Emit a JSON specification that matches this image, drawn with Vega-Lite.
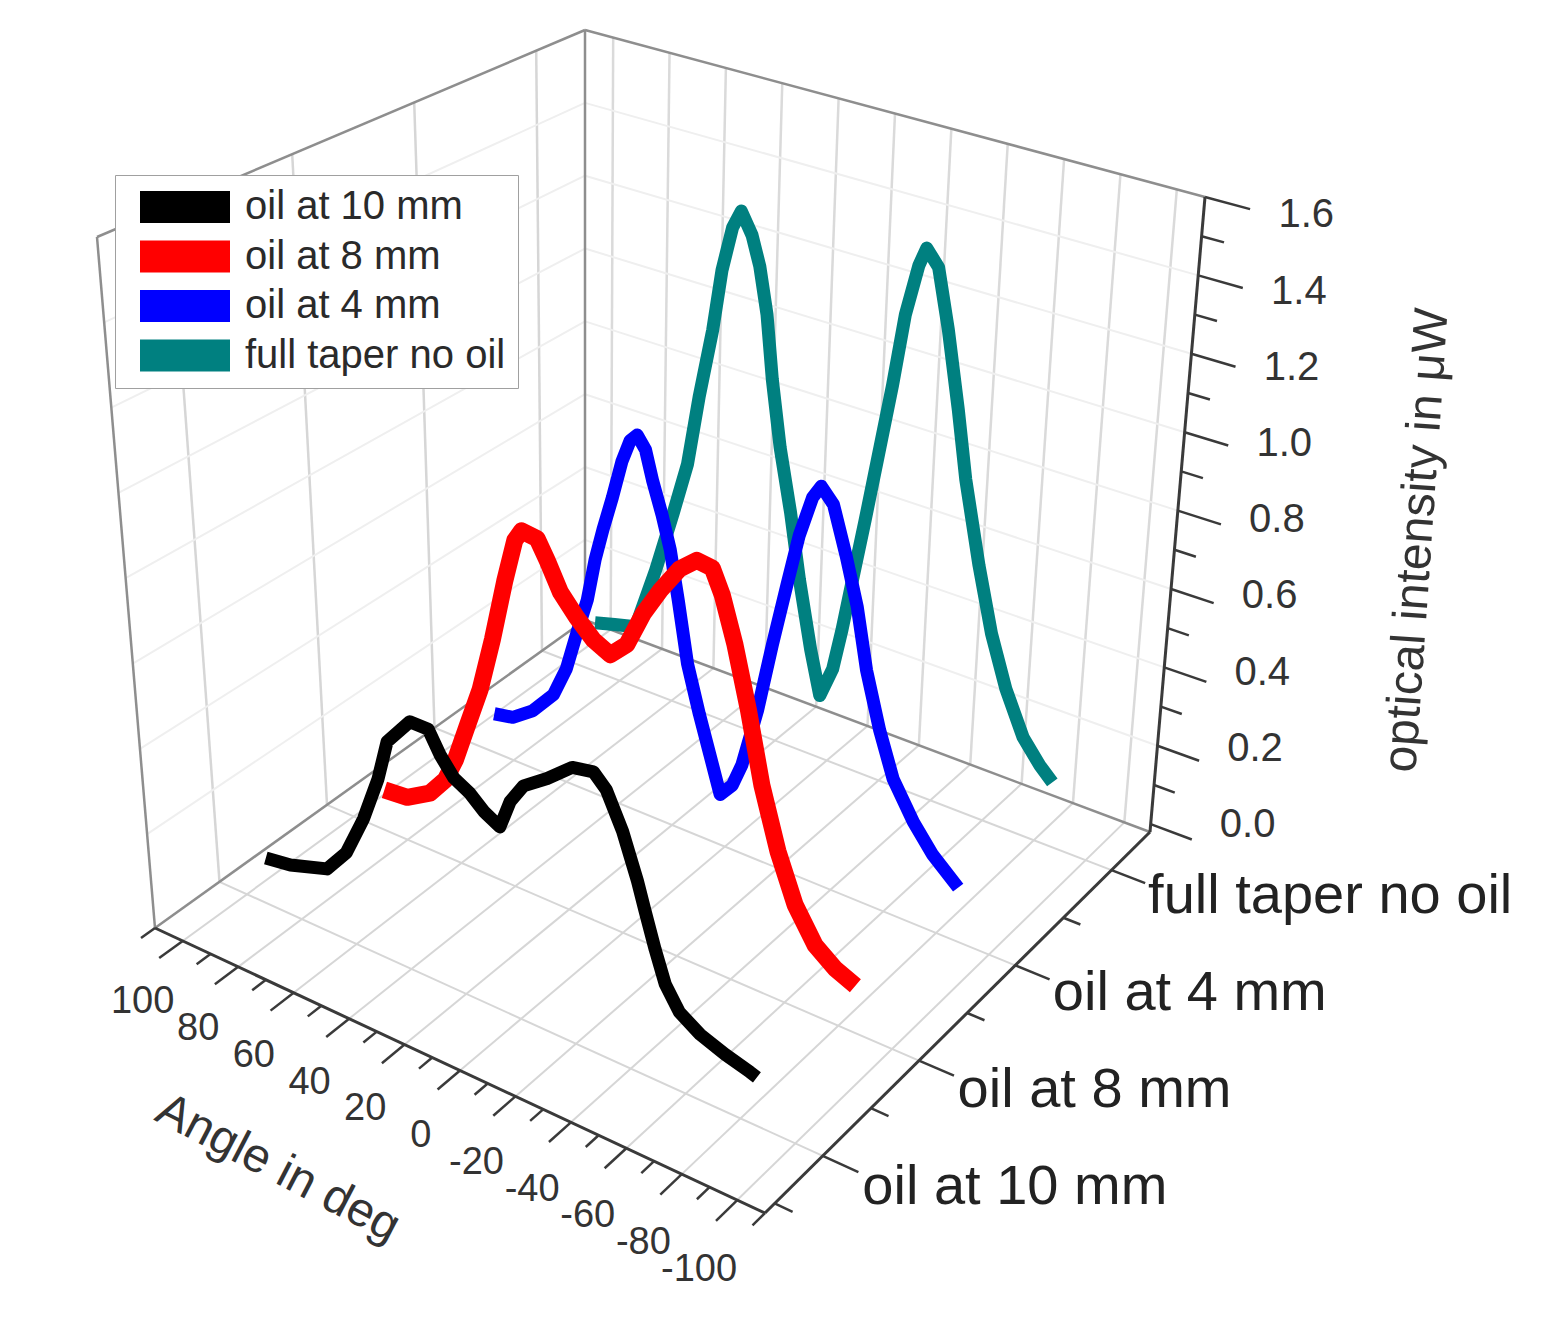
{
  "$schema": "https://vega.github.io/schema/vega-lite/v6.json",
  "width": 1566,
  "height": 1334,
  "padding": 0,
  "autosize": {"type": "none"},
  "background": "white",
  "config": {"view": {"stroke": null}, "font": "Liberation Sans"},
  "datasets": {
    "angles": [
      {"a": 110}, {"a": 100}, {"a": 90}, {"a": 80}, {"a": 70}, {"a": 60}, {"a": 50}, {"a": 40},
      {"a": 30}, {"a": 20}, {"a": 10}, {"a": 0}, {"a": -10}, {"a": -20}, {"a": -30}, {"a": -40},
      {"a": -50}, {"a": -60}, {"a": -70}, {"a": -80}, {"a": -90}, {"a": -100}, {"a": -110}
    ],
    "depths": [
      {"i": 0.5}, {"i": 1}, {"i": 1.5}, {"i": 2}, {"i": 2.5}, {"i": 3}, {"i": 3.5}, {"i": 4}
    ],
    "heights": [
      {"z": 0}, {"z": 0.1}, {"z": 0.2}, {"z": 0.3}, {"z": 0.4}, {"z": 0.5}, {"z": 0.6}, {"z": 0.7},
      {"z": 0.8}, {"z": 0.9}, {"z": 1.0}, {"z": 1.1}, {"z": 1.2}, {"z": 1.3}, {"z": 1.4}, {"z": 1.5}, {"z": 1.6}
    ],
    "frameEdges": [
      {"a": 110, "i": 0.4, "z": -0.02, "a2": 110, "i2": 4.4, "z2": -0.02},
      {"a": 110, "i": 4.4, "z": -0.02, "a2": -110, "i2": 4.4, "z2": -0.02},
      {"a": 110, "i": 4.4, "z": -0.02, "a2": 110, "i2": 4.4, "z2": 1.6},
      {"a": 110, "i": 0.4, "z": -0.02, "a2": 110, "i2": 0.4, "z2": 1.6},
      {"a": 110, "i": 0.4, "z": 1.6, "a2": 110, "i2": 4.4, "z2": 1.6},
      {"a": 110, "i": 4.4, "z": 1.6, "a2": -110, "i2": 4.4, "z2": 1.6}
    ],
    "axisEdges": [
      {"a": 110, "i": 0.4, "z": -0.02, "a2": -110, "i2": 0.4, "z2": -0.02},
      {"a": -110, "i": 0.4, "z": -0.02, "a2": -110, "i2": 4.4, "z2": -0.02},
      {"a": -110, "i": 4.4, "z": -0.02, "a2": -110, "i2": 4.4, "z2": 1.6}
    ],
    "series": [
      {"series": "oil at 10 mm"}, {"series": "oil at 8 mm"}, {"series": "oil at 4 mm"}, {"series": "full taper no oil"}
    ],
    "curves": [
      {"series": "full taper no oil", "angle": 89.5, "intensity": 0.11},
      {"series": "full taper no oil", "angle": 82, "intensity": 0.125},
      {"series": "full taper no oil", "angle": 74, "intensity": 0.14},
      {"series": "full taper no oil", "angle": 66.5, "intensity": 0.31},
      {"series": "full taper no oil", "angle": 60, "intensity": 0.48},
      {"series": "full taper no oil", "angle": 55, "intensity": 0.62},
      {"series": "full taper no oil", "angle": 51, "intensity": 0.81},
      {"series": "full taper no oil", "angle": 46.5, "intensity": 0.995},
      {"series": "full taper no oil", "angle": 43.5, "intensity": 1.16},
      {"series": "full taper no oil", "angle": 40, "intensity": 1.28},
      {"series": "full taper no oil", "angle": 37, "intensity": 1.33},
      {"series": "full taper no oil", "angle": 33, "intensity": 1.275},
      {"series": "full taper no oil", "angle": 30, "intensity": 1.2},
      {"series": "full taper no oil", "angle": 27, "intensity": 1.08},
      {"series": "full taper no oil", "angle": 24.5, "intensity": 0.915},
      {"series": "full taper no oil", "angle": 21, "intensity": 0.745},
      {"series": "full taper no oil", "angle": 16.5, "intensity": 0.585},
      {"series": "full taper no oil", "angle": 12.5, "intensity": 0.42},
      {"series": "full taper no oil", "angle": 7.5, "intensity": 0.25},
      {"series": "full taper no oil", "angle": 3.5, "intensity": 0.14},
      {"series": "full taper no oil", "angle": -1, "intensity": 0.22},
      {"series": "full taper no oil", "angle": -4, "intensity": 0.33},
      {"series": "full taper no oil", "angle": -7.5, "intensity": 0.48},
      {"series": "full taper no oil", "angle": -11, "intensity": 0.63},
      {"series": "full taper no oil", "angle": -14.5, "intensity": 0.79},
      {"series": "full taper no oil", "angle": -19, "intensity": 1.0},
      {"series": "full taper no oil", "angle": -22.5, "intensity": 1.19},
      {"series": "full taper no oil", "angle": -26.5, "intensity": 1.325},
      {"series": "full taper no oil", "angle": -29, "intensity": 1.375},
      {"series": "full taper no oil", "angle": -33.5, "intensity": 1.335},
      {"series": "full taper no oil", "angle": -38, "intensity": 1.185},
      {"series": "full taper no oil", "angle": -43, "intensity": 0.99},
      {"series": "full taper no oil", "angle": -47, "intensity": 0.82},
      {"series": "full taper no oil", "angle": -53.5, "intensity": 0.615},
      {"series": "full taper no oil", "angle": -59.5, "intensity": 0.455},
      {"series": "full taper no oil", "angle": -66, "intensity": 0.33},
      {"series": "full taper no oil", "angle": -73.5, "intensity": 0.225},
      {"series": "full taper no oil", "angle": -80.5, "intensity": 0.17},
      {"series": "full taper no oil", "angle": -85.5, "intensity": 0.14},

      {"series": "oil at 4 mm", "angle": 87, "intensity": 0.08},
      {"series": "oil at 4 mm", "angle": 80, "intensity": 0.09},
      {"series": "oil at 4 mm", "angle": 72.5, "intensity": 0.127},
      {"series": "oil at 4 mm", "angle": 64.5, "intensity": 0.19},
      {"series": "oil at 4 mm", "angle": 59.5, "intensity": 0.27},
      {"series": "oil at 4 mm", "angle": 55.5, "intensity": 0.37},
      {"series": "oil at 4 mm", "angle": 51.5, "intensity": 0.465},
      {"series": "oil at 4 mm", "angle": 48.5, "intensity": 0.575},
      {"series": "oil at 4 mm", "angle": 45.5, "intensity": 0.66},
      {"series": "oil at 4 mm", "angle": 42, "intensity": 0.75},
      {"series": "oil at 4 mm", "angle": 38.5, "intensity": 0.85},
      {"series": "oil at 4 mm", "angle": 35.5, "intensity": 0.91},
      {"series": "oil at 4 mm", "angle": 33, "intensity": 0.93},
      {"series": "oil at 4 mm", "angle": 30, "intensity": 0.9},
      {"series": "oil at 4 mm", "angle": 27.5, "intensity": 0.83},
      {"series": "oil at 4 mm", "angle": 24, "intensity": 0.75},
      {"series": "oil at 4 mm", "angle": 21, "intensity": 0.67},
      {"series": "oil at 4 mm", "angle": 18, "intensity": 0.55},
      {"series": "oil at 4 mm", "angle": 14.5, "intensity": 0.4},
      {"series": "oil at 4 mm", "angle": 10, "intensity": 0.285},
      {"series": "oil at 4 mm", "angle": 6, "intensity": 0.195},
      {"series": "oil at 4 mm", "angle": 2, "intensity": 0.105},
      {"series": "oil at 4 mm", "angle": -2.5, "intensity": 0.14},
      {"series": "oil at 4 mm", "angle": -6, "intensity": 0.2},
      {"series": "oil at 4 mm", "angle": -11.5, "intensity": 0.35},
      {"series": "oil at 4 mm", "angle": -16.5, "intensity": 0.525},
      {"series": "oil at 4 mm", "angle": -21.5, "intensity": 0.69},
      {"series": "oil at 4 mm", "angle": -25.5, "intensity": 0.82},
      {"series": "oil at 4 mm", "angle": -30, "intensity": 0.925},
      {"series": "oil at 4 mm", "angle": -33, "intensity": 0.96},
      {"series": "oil at 4 mm", "angle": -37.5, "intensity": 0.925},
      {"series": "oil at 4 mm", "angle": -42.5, "intensity": 0.81},
      {"series": "oil at 4 mm", "angle": -47, "intensity": 0.695},
      {"series": "oil at 4 mm", "angle": -51, "intensity": 0.55},
      {"series": "oil at 4 mm", "angle": -56.5, "intensity": 0.415},
      {"series": "oil at 4 mm", "angle": -62, "intensity": 0.31},
      {"series": "oil at 4 mm", "angle": -70, "intensity": 0.225},
      {"series": "oil at 4 mm", "angle": -77.5, "intensity": 0.165},
      {"series": "oil at 4 mm", "angle": -87.5, "intensity": 0.11},

      {"series": "oil at 8 mm", "angle": 88, "intensity": 0.08},
      {"series": "oil at 8 mm", "angle": 79.5, "intensity": 0.086},
      {"series": "oil at 8 mm", "angle": 71, "intensity": 0.12},
      {"series": "oil at 8 mm", "angle": 65, "intensity": 0.17},
      {"series": "oil at 8 mm", "angle": 61, "intensity": 0.23},
      {"series": "oil at 8 mm", "angle": 56.5, "intensity": 0.32},
      {"series": "oil at 8 mm", "angle": 51, "intensity": 0.43},
      {"series": "oil at 8 mm", "angle": 46, "intensity": 0.565},
      {"series": "oil at 8 mm", "angle": 41, "intensity": 0.72},
      {"series": "oil at 8 mm", "angle": 37, "intensity": 0.83},
      {"series": "oil at 8 mm", "angle": 34.5, "intensity": 0.86},
      {"series": "oil at 8 mm", "angle": 29, "intensity": 0.855},
      {"series": "oil at 8 mm", "angle": 25.5, "intensity": 0.81},
      {"series": "oil at 8 mm", "angle": 21, "intensity": 0.745},
      {"series": "oil at 8 mm", "angle": 15.5, "intensity": 0.7},
      {"series": "oil at 8 mm", "angle": 9.5, "intensity": 0.66},
      {"series": "oil at 8 mm", "angle": 3.5, "intensity": 0.64},
      {"series": "oil at 8 mm", "angle": -2.5, "intensity": 0.68},
      {"series": "oil at 8 mm", "angle": -8.5, "intensity": 0.77},
      {"series": "oil at 8 mm", "angle": -14.5, "intensity": 0.84},
      {"series": "oil at 8 mm", "angle": -21.5, "intensity": 0.91},
      {"series": "oil at 8 mm", "angle": -27.5, "intensity": 0.945},
      {"series": "oil at 8 mm", "angle": -33, "intensity": 0.94},
      {"series": "oil at 8 mm", "angle": -36.5, "intensity": 0.885},
      {"series": "oil at 8 mm", "angle": -41, "intensity": 0.78},
      {"series": "oil at 8 mm", "angle": -46, "intensity": 0.635},
      {"series": "oil at 8 mm", "angle": -51, "intensity": 0.47},
      {"series": "oil at 8 mm", "angle": -57, "intensity": 0.33},
      {"series": "oil at 8 mm", "angle": -63.5, "intensity": 0.22},
      {"series": "oil at 8 mm", "angle": -71, "intensity": 0.145},
      {"series": "oil at 8 mm", "angle": -78.5, "intensity": 0.11},
      {"series": "oil at 8 mm", "angle": -86, "intensity": 0.09},

      {"series": "oil at 10 mm", "angle": 92, "intensity": 0.09},
      {"series": "oil at 10 mm", "angle": 83, "intensity": 0.1},
      {"series": "oil at 10 mm", "angle": 69.5, "intensity": 0.13},
      {"series": "oil at 10 mm", "angle": 62, "intensity": 0.19},
      {"series": "oil at 10 mm", "angle": 55, "intensity": 0.29},
      {"series": "oil at 10 mm", "angle": 49, "intensity": 0.4},
      {"series": "oil at 10 mm", "angle": 45, "intensity": 0.5},
      {"series": "oil at 10 mm", "angle": 36.5, "intensity": 0.57},
      {"series": "oil at 10 mm", "angle": 30, "intensity": 0.57},
      {"series": "oil at 10 mm", "angle": 26, "intensity": 0.52},
      {"series": "oil at 10 mm", "angle": 21.5, "intensity": 0.48},
      {"series": "oil at 10 mm", "angle": 16, "intensity": 0.46},
      {"series": "oil at 10 mm", "angle": 11, "intensity": 0.43},
      {"series": "oil at 10 mm", "angle": 5.5, "intensity": 0.41},
      {"series": "oil at 10 mm", "angle": 1.5, "intensity": 0.48},
      {"series": "oil at 10 mm", "angle": -3.5, "intensity": 0.53},
      {"series": "oil at 10 mm", "angle": -12, "intensity": 0.57},
      {"series": "oil at 10 mm", "angle": -21, "intensity": 0.62},
      {"series": "oil at 10 mm", "angle": -28.5, "intensity": 0.63},
      {"series": "oil at 10 mm", "angle": -33, "intensity": 0.6},
      {"series": "oil at 10 mm", "angle": -38.5, "intensity": 0.52},
      {"series": "oil at 10 mm", "angle": -43.5, "intensity": 0.42},
      {"series": "oil at 10 mm", "angle": -46, "intensity": 0.36},
      {"series": "oil at 10 mm", "angle": -49.5, "intensity": 0.28},
      {"series": "oil at 10 mm", "angle": -53, "intensity": 0.21},
      {"series": "oil at 10 mm", "angle": -58, "intensity": 0.16},
      {"series": "oil at 10 mm", "angle": -65.5, "intensity": 0.13},
      {"series": "oil at 10 mm", "angle": -74.5, "intensity": 0.11},
      {"series": "oil at 10 mm", "angle": -83.5, "intensity": 0.095},
      {"series": "oil at 10 mm", "angle": -86, "intensity": 0.09}
    ]
  },
  "encoding": {
    "x": {"field": "px", "type": "quantitative", "scale": {"domain": [0, 1566], "nice": false, "zero": false}, "axis": null},
    "y": {"field": "py", "type": "quantitative", "scale": {"domain": [0, 1334], "reverse": true, "nice": false, "zero": false}, "axis": null}
  },
  "layer": [
    {
      "data": {"name": "angles"},
      "transform": [
        {"filter": "datum.a % 20 == 0 && abs(datum.a) <= 100"},
        {"calculate": "datum.a", "as": "a2"},
        {"calculate": "0.4", "as": "i"},
        {"calculate": "4.4", "as": "i2"},
        {"calculate": "-0.02", "as": "z"},
        {"calculate": "-0.02", "as": "z2"},
        {"calculate": "(110 - datum.a) / 220", "as": "t"},
        {"calculate": "(datum.i - 0.4) / 4", "as": "u"},
        {"calculate": "(datum.z + 0.02) / 1.62", "as": "w"},
        {"calculate": "155 + 610 * datum.t + 430 * datum.u - 45 * datum.t * datum.u + datum.w * (-58 + 55 * datum.t + 58 * datum.u)", "as": "px"},
        {"calculate": "928 + 285 * datum.t - 308 * datum.u - 73 * datum.t * datum.u + datum.w * (-691 - 45 * datum.t + 101 * datum.u)", "as": "py"},
        {"calculate": "(110 - datum.a2) / 220", "as": "t2"},
        {"calculate": "(datum.i2 - 0.4) / 4", "as": "u2"},
        {"calculate": "(datum.z2 + 0.02) / 1.62", "as": "w2"},
        {"calculate": "155 + 610 * datum.t2 + 430 * datum.u2 - 45 * datum.t2 * datum.u2 + datum.w2 * (-58 + 55 * datum.t2 + 58 * datum.u2)", "as": "px2"},
        {"calculate": "928 + 285 * datum.t2 - 308 * datum.u2 - 73 * datum.t2 * datum.u2 + datum.w2 * (-691 - 45 * datum.t2 + 101 * datum.u2)", "as": "py2"}
      ],
      "mark": {"type": "rule", "color": "#d6d6d6", "strokeWidth": 2},
      "encoding": {"x2": {"field": "px2"}, "y2": {"field": "py2"}}
    },
    {
      "data": {"name": "angles"},
      "transform": [
        {"filter": "datum.a % 20 == 0 && abs(datum.a) <= 100"},
        {"calculate": "datum.a", "as": "a2"},
        {"calculate": "4.4", "as": "i"},
        {"calculate": "4.4", "as": "i2"},
        {"calculate": "-0.02", "as": "z"},
        {"calculate": "1.6", "as": "z2"},
        {"calculate": "(110 - datum.a) / 220", "as": "t"},
        {"calculate": "(datum.i - 0.4) / 4", "as": "u"},
        {"calculate": "(datum.z + 0.02) / 1.62", "as": "w"},
        {"calculate": "155 + 610 * datum.t + 430 * datum.u - 45 * datum.t * datum.u + datum.w * (-58 + 55 * datum.t + 58 * datum.u)", "as": "px"},
        {"calculate": "928 + 285 * datum.t - 308 * datum.u - 73 * datum.t * datum.u + datum.w * (-691 - 45 * datum.t + 101 * datum.u)", "as": "py"},
        {"calculate": "(110 - datum.a2) / 220", "as": "t2"},
        {"calculate": "(datum.i2 - 0.4) / 4", "as": "u2"},
        {"calculate": "(datum.z2 + 0.02) / 1.62", "as": "w2"},
        {"calculate": "155 + 610 * datum.t2 + 430 * datum.u2 - 45 * datum.t2 * datum.u2 + datum.w2 * (-58 + 55 * datum.t2 + 58 * datum.u2)", "as": "px2"},
        {"calculate": "928 + 285 * datum.t2 - 308 * datum.u2 - 73 * datum.t2 * datum.u2 + datum.w2 * (-691 - 45 * datum.t2 + 101 * datum.u2)", "as": "py2"}
      ],
      "mark": {"type": "rule", "color": "#dadada", "strokeWidth": 2.5},
      "encoding": {"x2": {"field": "px2"}, "y2": {"field": "py2"}}
    },
    {
      "data": {"name": "depths"},
      "transform": [
        {"filter": "datum.i % 1 == 0"},
        {"calculate": "110", "as": "a"},
        {"calculate": "-110", "as": "a2"},
        {"calculate": "datum.i", "as": "i2"},
        {"calculate": "-0.02", "as": "z"},
        {"calculate": "-0.02", "as": "z2"},
        {"calculate": "(110 - datum.a) / 220", "as": "t"},
        {"calculate": "(datum.i - 0.4) / 4", "as": "u"},
        {"calculate": "(datum.z + 0.02) / 1.62", "as": "w"},
        {"calculate": "155 + 610 * datum.t + 430 * datum.u - 45 * datum.t * datum.u + datum.w * (-58 + 55 * datum.t + 58 * datum.u)", "as": "px"},
        {"calculate": "928 + 285 * datum.t - 308 * datum.u - 73 * datum.t * datum.u + datum.w * (-691 - 45 * datum.t + 101 * datum.u)", "as": "py"},
        {"calculate": "(110 - datum.a2) / 220", "as": "t2"},
        {"calculate": "(datum.i2 - 0.4) / 4", "as": "u2"},
        {"calculate": "(datum.z2 + 0.02) / 1.62", "as": "w2"},
        {"calculate": "155 + 610 * datum.t2 + 430 * datum.u2 - 45 * datum.t2 * datum.u2 + datum.w2 * (-58 + 55 * datum.t2 + 58 * datum.u2)", "as": "px2"},
        {"calculate": "928 + 285 * datum.t2 - 308 * datum.u2 - 73 * datum.t2 * datum.u2 + datum.w2 * (-691 - 45 * datum.t2 + 101 * datum.u2)", "as": "py2"}
      ],
      "mark": {"type": "rule", "color": "#d6d6d6", "strokeWidth": 2},
      "encoding": {"x2": {"field": "px2"}, "y2": {"field": "py2"}}
    },
    {
      "data": {"name": "depths"},
      "transform": [
        {"filter": "datum.i % 1 == 0"},
        {"calculate": "110", "as": "a"},
        {"calculate": "110", "as": "a2"},
        {"calculate": "datum.i", "as": "i2"},
        {"calculate": "-0.02", "as": "z"},
        {"calculate": "1.6", "as": "z2"},
        {"calculate": "(110 - datum.a) / 220", "as": "t"},
        {"calculate": "(datum.i - 0.4) / 4", "as": "u"},
        {"calculate": "(datum.z + 0.02) / 1.62", "as": "w"},
        {"calculate": "155 + 610 * datum.t + 430 * datum.u - 45 * datum.t * datum.u + datum.w * (-58 + 55 * datum.t + 58 * datum.u)", "as": "px"},
        {"calculate": "928 + 285 * datum.t - 308 * datum.u - 73 * datum.t * datum.u + datum.w * (-691 - 45 * datum.t + 101 * datum.u)", "as": "py"},
        {"calculate": "(110 - datum.a2) / 220", "as": "t2"},
        {"calculate": "(datum.i2 - 0.4) / 4", "as": "u2"},
        {"calculate": "(datum.z2 + 0.02) / 1.62", "as": "w2"},
        {"calculate": "155 + 610 * datum.t2 + 430 * datum.u2 - 45 * datum.t2 * datum.u2 + datum.w2 * (-58 + 55 * datum.t2 + 58 * datum.u2)", "as": "px2"},
        {"calculate": "928 + 285 * datum.t2 - 308 * datum.u2 - 73 * datum.t2 * datum.u2 + datum.w2 * (-691 - 45 * datum.t2 + 101 * datum.u2)", "as": "py2"}
      ],
      "mark": {"type": "rule", "color": "#d6d6d6", "strokeWidth": 2.5},
      "encoding": {"x2": {"field": "px2"}, "y2": {"field": "py2"}}
    },
    {
      "data": {"name": "heights"},
      "transform": [
        {"filter": "round(datum.z * 10) % 2 == 0 && datum.z > 0 && datum.z < 1.6"},
        {"calculate": "110", "as": "a"},
        {"calculate": "-110", "as": "a2"},
        {"calculate": "4.4", "as": "i"},
        {"calculate": "4.4", "as": "i2"},
        {"calculate": "datum.z", "as": "z2"},
        {"calculate": "(110 - datum.a) / 220", "as": "t"},
        {"calculate": "(datum.i - 0.4) / 4", "as": "u"},
        {"calculate": "(datum.z + 0.02) / 1.62", "as": "w"},
        {"calculate": "155 + 610 * datum.t + 430 * datum.u - 45 * datum.t * datum.u + datum.w * (-58 + 55 * datum.t + 58 * datum.u)", "as": "px"},
        {"calculate": "928 + 285 * datum.t - 308 * datum.u - 73 * datum.t * datum.u + datum.w * (-691 - 45 * datum.t + 101 * datum.u)", "as": "py"},
        {"calculate": "(110 - datum.a2) / 220", "as": "t2"},
        {"calculate": "(datum.i2 - 0.4) / 4", "as": "u2"},
        {"calculate": "(datum.z2 + 0.02) / 1.62", "as": "w2"},
        {"calculate": "155 + 610 * datum.t2 + 430 * datum.u2 - 45 * datum.t2 * datum.u2 + datum.w2 * (-58 + 55 * datum.t2 + 58 * datum.u2)", "as": "px2"},
        {"calculate": "928 + 285 * datum.t2 - 308 * datum.u2 - 73 * datum.t2 * datum.u2 + datum.w2 * (-691 - 45 * datum.t2 + 101 * datum.u2)", "as": "py2"}
      ],
      "mark": {"type": "rule", "color": "#efefef", "strokeWidth": 2},
      "encoding": {"x2": {"field": "px2"}, "y2": {"field": "py2"}}
    },
    {
      "data": {"name": "heights"},
      "transform": [
        {"filter": "round(datum.z * 10) % 2 == 0 && datum.z > 0 && datum.z < 1.6"},
        {"calculate": "110", "as": "a"},
        {"calculate": "110", "as": "a2"},
        {"calculate": "0.4", "as": "i"},
        {"calculate": "4.4", "as": "i2"},
        {"calculate": "datum.z", "as": "z2"},
        {"calculate": "(110 - datum.a) / 220", "as": "t"},
        {"calculate": "(datum.i - 0.4) / 4", "as": "u"},
        {"calculate": "(datum.z + 0.02) / 1.62", "as": "w"},
        {"calculate": "155 + 610 * datum.t + 430 * datum.u - 45 * datum.t * datum.u + datum.w * (-58 + 55 * datum.t + 58 * datum.u)", "as": "px"},
        {"calculate": "928 + 285 * datum.t - 308 * datum.u - 73 * datum.t * datum.u + datum.w * (-691 - 45 * datum.t + 101 * datum.u)", "as": "py"},
        {"calculate": "(110 - datum.a2) / 220", "as": "t2"},
        {"calculate": "(datum.i2 - 0.4) / 4", "as": "u2"},
        {"calculate": "(datum.z2 + 0.02) / 1.62", "as": "w2"},
        {"calculate": "155 + 610 * datum.t2 + 430 * datum.u2 - 45 * datum.t2 * datum.u2 + datum.w2 * (-58 + 55 * datum.t2 + 58 * datum.u2)", "as": "px2"},
        {"calculate": "928 + 285 * datum.t2 - 308 * datum.u2 - 73 * datum.t2 * datum.u2 + datum.w2 * (-691 - 45 * datum.t2 + 101 * datum.u2)", "as": "py2"}
      ],
      "mark": {"type": "rule", "color": "#efefef", "strokeWidth": 2},
      "encoding": {"x2": {"field": "px2"}, "y2": {"field": "py2"}}
    },
    {
      "data": {"name": "frameEdges"},
      "transform": [
        {"calculate": "(110 - datum.a) / 220", "as": "t"},
        {"calculate": "(datum.i - 0.4) / 4", "as": "u"},
        {"calculate": "(datum.z + 0.02) / 1.62", "as": "w"},
        {"calculate": "155 + 610 * datum.t + 430 * datum.u - 45 * datum.t * datum.u + datum.w * (-58 + 55 * datum.t + 58 * datum.u)", "as": "px"},
        {"calculate": "928 + 285 * datum.t - 308 * datum.u - 73 * datum.t * datum.u + datum.w * (-691 - 45 * datum.t + 101 * datum.u)", "as": "py"},
        {"calculate": "(110 - datum.a2) / 220", "as": "t2"},
        {"calculate": "(datum.i2 - 0.4) / 4", "as": "u2"},
        {"calculate": "(datum.z2 + 0.02) / 1.62", "as": "w2"},
        {"calculate": "155 + 610 * datum.t2 + 430 * datum.u2 - 45 * datum.t2 * datum.u2 + datum.w2 * (-58 + 55 * datum.t2 + 58 * datum.u2)", "as": "px2"},
        {"calculate": "928 + 285 * datum.t2 - 308 * datum.u2 - 73 * datum.t2 * datum.u2 + datum.w2 * (-691 - 45 * datum.t2 + 101 * datum.u2)", "as": "py2"}
      ],
      "mark": {"type": "rule", "color": "#8e8e8e", "strokeWidth": 2.5},
      "encoding": {"x2": {"field": "px2"}, "y2": {"field": "py2"}}
    },
    {
      "data": {"name": "axisEdges"},
      "transform": [
        {"calculate": "(110 - datum.a) / 220", "as": "t"},
        {"calculate": "(datum.i - 0.4) / 4", "as": "u"},
        {"calculate": "(datum.z + 0.02) / 1.62", "as": "w"},
        {"calculate": "155 + 610 * datum.t + 430 * datum.u - 45 * datum.t * datum.u + datum.w * (-58 + 55 * datum.t + 58 * datum.u)", "as": "px"},
        {"calculate": "928 + 285 * datum.t - 308 * datum.u - 73 * datum.t * datum.u + datum.w * (-691 - 45 * datum.t + 101 * datum.u)", "as": "py"},
        {"calculate": "(110 - datum.a2) / 220", "as": "t2"},
        {"calculate": "(datum.i2 - 0.4) / 4", "as": "u2"},
        {"calculate": "(datum.z2 + 0.02) / 1.62", "as": "w2"},
        {"calculate": "155 + 610 * datum.t2 + 430 * datum.u2 - 45 * datum.t2 * datum.u2 + datum.w2 * (-58 + 55 * datum.t2 + 58 * datum.u2)", "as": "px2"},
        {"calculate": "928 + 285 * datum.t2 - 308 * datum.u2 - 73 * datum.t2 * datum.u2 + datum.w2 * (-691 - 45 * datum.t2 + 101 * datum.u2)", "as": "py2"}
      ],
      "mark": {"type": "rule", "color": "#3a3a3a", "strokeWidth": 3},
      "encoding": {"x2": {"field": "px2"}, "y2": {"field": "py2"}}
    },
    {
      "data": {"name": "angles"},
      "transform": [
        {"calculate": "datum.a", "as": "a2"},
        {"calculate": "0.4", "as": "i"},
        {"calculate": "datum.a % 20 == 0 ? 0.18 : 0.27", "as": "i2"},
        {"calculate": "-0.02", "as": "z"},
        {"calculate": "-0.02", "as": "z2"},
        {"calculate": "(110 - datum.a) / 220", "as": "t"},
        {"calculate": "(datum.i - 0.4) / 4", "as": "u"},
        {"calculate": "(datum.z + 0.02) / 1.62", "as": "w"},
        {"calculate": "155 + 610 * datum.t + 430 * datum.u - 45 * datum.t * datum.u + datum.w * (-58 + 55 * datum.t + 58 * datum.u)", "as": "px"},
        {"calculate": "928 + 285 * datum.t - 308 * datum.u - 73 * datum.t * datum.u + datum.w * (-691 - 45 * datum.t + 101 * datum.u)", "as": "py"},
        {"calculate": "(110 - datum.a2) / 220", "as": "t2"},
        {"calculate": "(datum.i2 - 0.4) / 4", "as": "u2"},
        {"calculate": "(datum.z2 + 0.02) / 1.62", "as": "w2"},
        {"calculate": "155 + 610 * datum.t2 + 430 * datum.u2 - 45 * datum.t2 * datum.u2 + datum.w2 * (-58 + 55 * datum.t2 + 58 * datum.u2)", "as": "px2"},
        {"calculate": "928 + 285 * datum.t2 - 308 * datum.u2 - 73 * datum.t2 * datum.u2 + datum.w2 * (-691 - 45 * datum.t2 + 101 * datum.u2)", "as": "py2"}
      ],
      "mark": {"type": "rule", "color": "#3a3a3a", "strokeWidth": 2.5},
      "encoding": {"x2": {"field": "px2"}, "y2": {"field": "py2"}}
    },
    {
      "data": {"name": "depths"},
      "transform": [
        {"calculate": "-110", "as": "a"},
        {"calculate": "datum.i % 1 == 0 ? -123 : -116.5", "as": "a2"},
        {"calculate": "datum.i", "as": "i2"},
        {"calculate": "-0.02", "as": "z"},
        {"calculate": "-0.02", "as": "z2"},
        {"calculate": "(110 - datum.a) / 220", "as": "t"},
        {"calculate": "(datum.i - 0.4) / 4", "as": "u"},
        {"calculate": "(datum.z + 0.02) / 1.62", "as": "w"},
        {"calculate": "155 + 610 * datum.t + 430 * datum.u - 45 * datum.t * datum.u + datum.w * (-58 + 55 * datum.t + 58 * datum.u)", "as": "px"},
        {"calculate": "928 + 285 * datum.t - 308 * datum.u - 73 * datum.t * datum.u + datum.w * (-691 - 45 * datum.t + 101 * datum.u)", "as": "py"},
        {"calculate": "(110 - datum.a2) / 220", "as": "t2"},
        {"calculate": "(datum.i2 - 0.4) / 4", "as": "u2"},
        {"calculate": "(datum.z2 + 0.02) / 1.62", "as": "w2"},
        {"calculate": "155 + 610 * datum.t2 + 430 * datum.u2 - 45 * datum.t2 * datum.u2 + datum.w2 * (-58 + 55 * datum.t2 + 58 * datum.u2)", "as": "px2"},
        {"calculate": "928 + 285 * datum.t2 - 308 * datum.u2 - 73 * datum.t2 * datum.u2 + datum.w2 * (-691 - 45 * datum.t2 + 101 * datum.u2)", "as": "py2"}
      ],
      "mark": {"type": "rule", "color": "#3a3a3a", "strokeWidth": 2.5},
      "encoding": {"x2": {"field": "px2"}, "y2": {"field": "py2"}}
    },
    {
      "data": {"name": "heights"},
      "transform": [
        {"calculate": "-110", "as": "a"},
        {"calculate": "round(datum.z * 10) % 2 == 0 ? -126 : -118", "as": "a2"},
        {"calculate": "4.4", "as": "i"},
        {"calculate": "4.4", "as": "i2"},
        {"calculate": "datum.z", "as": "z2"},
        {"calculate": "(110 - datum.a) / 220", "as": "t"},
        {"calculate": "(datum.i - 0.4) / 4", "as": "u"},
        {"calculate": "(datum.z + 0.02) / 1.62", "as": "w"},
        {"calculate": "155 + 610 * datum.t + 430 * datum.u - 45 * datum.t * datum.u + datum.w * (-58 + 55 * datum.t + 58 * datum.u)", "as": "px"},
        {"calculate": "928 + 285 * datum.t - 308 * datum.u - 73 * datum.t * datum.u + datum.w * (-691 - 45 * datum.t + 101 * datum.u)", "as": "py"},
        {"calculate": "(110 - datum.a2) / 220", "as": "t2"},
        {"calculate": "(datum.i2 - 0.4) / 4", "as": "u2"},
        {"calculate": "(datum.z2 + 0.02) / 1.62", "as": "w2"},
        {"calculate": "155 + 610 * datum.t2 + 430 * datum.u2 - 45 * datum.t2 * datum.u2 + datum.w2 * (-58 + 55 * datum.t2 + 58 * datum.u2)", "as": "px2"},
        {"calculate": "928 + 285 * datum.t2 - 308 * datum.u2 - 73 * datum.t2 * datum.u2 + datum.w2 * (-691 - 45 * datum.t2 + 101 * datum.u2)", "as": "py2"}
      ],
      "mark": {"type": "rule", "color": "#3a3a3a", "strokeWidth": 2.5},
      "encoding": {"x2": {"field": "px2"}, "y2": {"field": "py2"}}
    },
    {
      "data": {"name": "angles"},
      "transform": [
        {"filter": "datum.a % 20 == 0 && abs(datum.a) <= 100"},
        {"calculate": "toString(datum.a)", "as": "label"},
        {"calculate": "0", "as": "i"},
        {"calculate": "-0.09", "as": "z"},
        {"calculate": "(110 - datum.a) / 220", "as": "t"},
        {"calculate": "(datum.i - 0.4) / 4", "as": "u"},
        {"calculate": "(datum.z + 0.02) / 1.62", "as": "w"},
        {"calculate": "155 + 610 * datum.t + 430 * datum.u - 45 * datum.t * datum.u + datum.w * (-58 + 55 * datum.t + 58 * datum.u)", "as": "px"},
        {"calculate": "928 + 285 * datum.t - 308 * datum.u - 73 * datum.t * datum.u + datum.w * (-691 - 45 * datum.t + 101 * datum.u)", "as": "py"}
      ],
      "mark": {"type": "text", "align": "center", "baseline": "middle", "fontSize": 38, "color": "#333333"},
      "encoding": {"text": {"field": "label", "type": "nominal"}}
    },
    {
      "data": {"name": "heights"},
      "transform": [
        {"filter": "round(datum.z * 10) % 2 == 0"},
        {"calculate": "format(datum.z, '.1f')", "as": "label"},
        {"calculate": "-136", "as": "a"},
        {"calculate": "4.4", "as": "i"},
        {"calculate": "0.061 + 0.964 * datum.z", "as": "z"},
        {"calculate": "(110 - datum.a) / 220", "as": "t"},
        {"calculate": "(datum.i - 0.4) / 4", "as": "u"},
        {"calculate": "(datum.z + 0.02) / 1.62", "as": "w"},
        {"calculate": "155 + 610 * datum.t + 430 * datum.u - 45 * datum.t * datum.u + datum.w * (-58 + 55 * datum.t + 58 * datum.u)", "as": "px"},
        {"calculate": "928 + 285 * datum.t - 308 * datum.u - 73 * datum.t * datum.u + datum.w * (-691 - 45 * datum.t + 101 * datum.u)", "as": "py"}
      ],
      "mark": {"type": "text", "align": "left", "baseline": "middle", "fontSize": 40, "color": "#333333"},
      "encoding": {"text": {"field": "label", "type": "nominal"}}
    },
    {
      "data": {"name": "series"},
      "transform": [
        {"calculate": "indexof(['oil at 10 mm', 'oil at 8 mm', 'oil at 4 mm', 'full taper no oil'], datum.series) + 1", "as": "i"},
        {"calculate": "-124.5", "as": "a"},
        {"calculate": "-0.049", "as": "z"},
        {"calculate": "(110 - datum.a) / 220", "as": "t"},
        {"calculate": "(datum.i - 0.4) / 4", "as": "u"},
        {"calculate": "(datum.z + 0.02) / 1.62", "as": "w"},
        {"calculate": "155 + 610 * datum.t + 430 * datum.u - 45 * datum.t * datum.u + datum.w * (-58 + 55 * datum.t + 58 * datum.u)", "as": "px"},
        {"calculate": "928 + 285 * datum.t - 308 * datum.u - 73 * datum.t * datum.u + datum.w * (-691 - 45 * datum.t + 101 * datum.u)", "as": "py"}
      ],
      "mark": {"type": "text", "align": "left", "baseline": "middle", "fontSize": 56, "color": "#222222"},
      "encoding": {"text": {"field": "series", "type": "nominal"}}
    },
    {
      "data": {"values": [{"label": "Angle in deg"}]},
      "transform": [
        {"calculate": "54", "as": "a"},
        {"calculate": "0", "as": "i"},
        {"calculate": "-0.328", "as": "z"},
        {"calculate": "(110 - datum.a) / 220", "as": "t"},
        {"calculate": "(datum.i - 0.4) / 4", "as": "u"},
        {"calculate": "(datum.z + 0.02) / 1.62", "as": "w"},
        {"calculate": "155 + 610 * datum.t + 430 * datum.u - 45 * datum.t * datum.u + datum.w * (-58 + 55 * datum.t + 58 * datum.u)", "as": "px"},
        {"calculate": "928 + 285 * datum.t - 308 * datum.u - 73 * datum.t * datum.u + datum.w * (-691 - 45 * datum.t + 101 * datum.u)", "as": "py"}
      ],
      "mark": {"type": "text", "align": "center", "baseline": "middle", "fontSize": 48, "angle": 27.5, "color": "#333333"},
      "encoding": {"text": {"field": "label", "type": "nominal"}}
    },
    {
      "data": {"values": [{"label": "optical intensity in μW"}]},
      "transform": [
        {"calculate": "-197", "as": "a"},
        {"calculate": "4.4", "as": "i"},
        {"calculate": "0.912", "as": "z"},
        {"calculate": "(110 - datum.a) / 220", "as": "t"},
        {"calculate": "(datum.i - 0.4) / 4", "as": "u"},
        {"calculate": "(datum.z + 0.02) / 1.62", "as": "w"},
        {"calculate": "155 + 610 * datum.t + 430 * datum.u - 45 * datum.t * datum.u + datum.w * (-58 + 55 * datum.t + 58 * datum.u)", "as": "px"},
        {"calculate": "928 + 285 * datum.t - 308 * datum.u - 73 * datum.t * datum.u + datum.w * (-691 - 45 * datum.t + 101 * datum.u)", "as": "py"}
      ],
      "mark": {"type": "text", "align": "center", "baseline": "middle", "fontSize": 48, "angle": -86, "color": "#333333"},
      "encoding": {"text": {"field": "label", "type": "nominal"}}
    },
    {
      "data": {"name": "curves"},
      "transform": [
        {"calculate": "datum.angle", "as": "a"},
        {"calculate": "indexof(['oil at 10 mm', 'oil at 8 mm', 'oil at 4 mm', 'full taper no oil'], datum.series) + 1", "as": "i"},
        {"calculate": "datum.intensity", "as": "z"},
        {"calculate": "(110 - datum.a) / 220", "as": "t"},
        {"calculate": "(datum.i - 0.4) / 4", "as": "u"},
        {"calculate": "(datum.z + 0.02) / 1.62", "as": "w"},
        {"calculate": "155 + 610 * datum.t + 430 * datum.u - 45 * datum.t * datum.u + datum.w * (-58 + 55 * datum.t + 58 * datum.u)", "as": "px"},
        {"calculate": "928 + 285 * datum.t - 308 * datum.u - 73 * datum.t * datum.u + datum.w * (-691 - 45 * datum.t + 101 * datum.u)", "as": "py"}
      ],
      "mark": {"type": "line", "strokeJoin": "round", "strokeCap": "butt"},
      "encoding": {
        "order": {"field": "t", "type": "quantitative"},
        "strokeWidth": {"condition": {"test": "datum.series === 'oil at 8 mm'", "value": 17}, "value": 13},
        "color": {
          "field": "series",
          "type": "nominal",
          "scale": {
            "domain": ["oil at 10 mm", "oil at 8 mm", "oil at 4 mm", "full taper no oil"],
            "range": ["#000000", "#ff0000", "#0000ff", "#008080"]
          },
          "legend": {
            "title": null,
            "orient": "none",
            "legendX": 115,
            "legendY": 175,
            "direction": "vertical",
            "symbolType": "M0,-1.6H9V1.6H0Z",
            "symbolSize": 400,
            "symbolStrokeWidth": 0,
            "symbolOffset": -7,
            "labelFontSize": 40,
            "labelFont": "Liberation Sans",
            "labelColor": "#2a2a2a",
            "labelOffset": 85,
            "labelLimit": 0,
            "rowPadding": 9.5,
            "padding": 12,
            "strokeColor": "#a0a0a0",
            "fillColor": "white",
            "zindex": 1,
            "encode": {
              "symbols": {
                "update": {
                  "fill": {"scale": "color", "field": "value"},
                  "fillOpacity": {"value": 1},
                  "stroke": {"value": "transparent"}
                }
              }
            }
          }
        }
      }
    }
  ]
}
